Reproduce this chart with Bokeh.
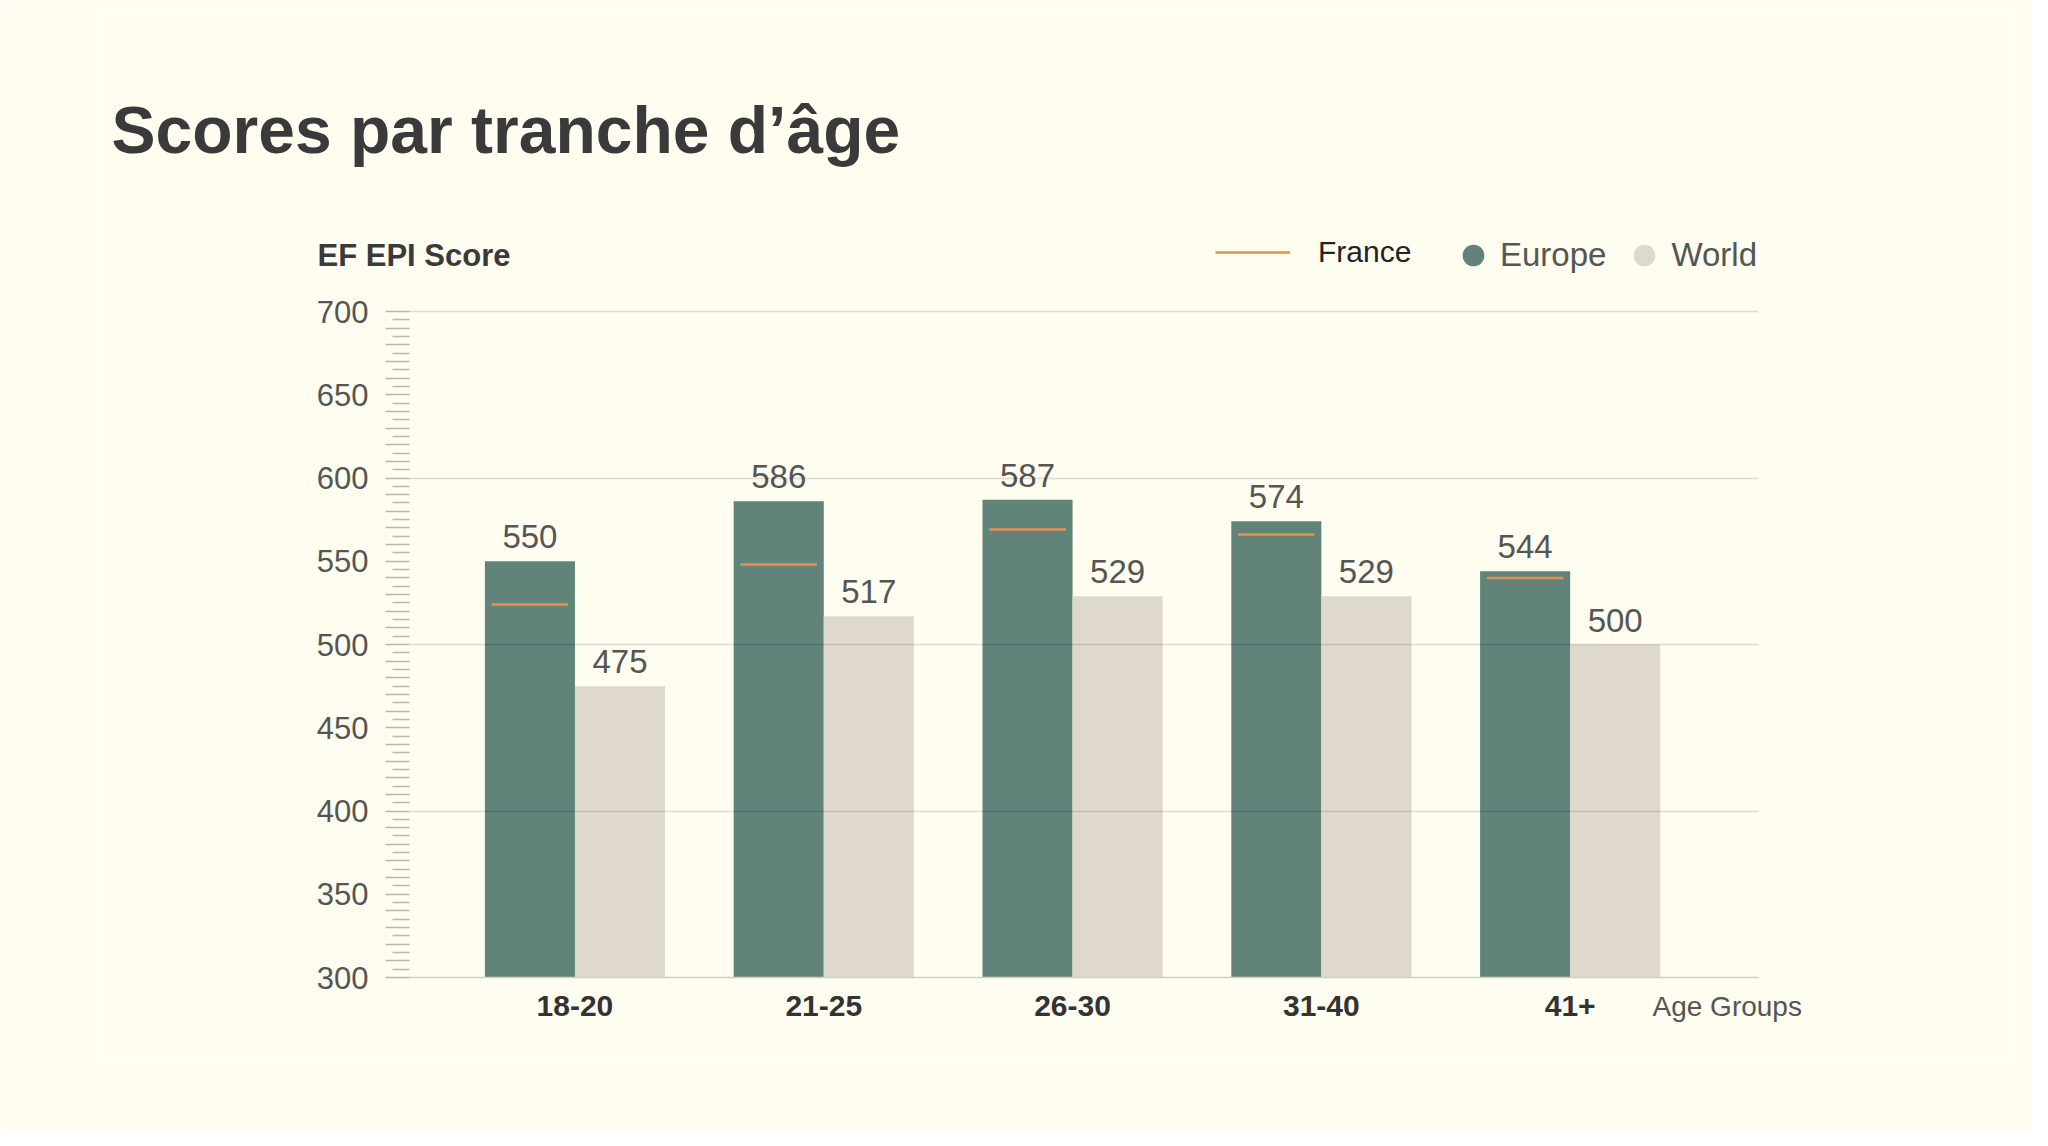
from bokeh.plotting import figure
from bokeh.models import Range1d, FixedTicker, Label, Legend, LegendItem, LinearAxis
from bokeh.core.properties import value
from bokeh.embed import file_html
from bokeh.resources import INLINE

# ---------------- data ----------------
categories = ["18-20", "21-25", "26-30", "31-40", "41+"]
europe = [550, 586, 587, 574, 544]
world = [475, 517, 529, 529, 500]
france = [524, 548, 569, 566, 540]
y_major_ticks = list(range(300, 701, 10))
y_minor_ticks = list(range(305, 700, 10))
y_label_step = 50
grid_values = [400, 500, 600, 700]
y_min, y_max = 300, 700

# ---------------- style / geometry ----------------
BG = "#fefdf0"
GREEN = "#61837a"
BEIGE = "#dfd8cc"
ORANGE = "#e8914a"
FONT = "Liberation Sans"

W, H = 2032, 1130
FL, FR, FT, FB = 100, 2012, 10, 1060          # plot frame (canvas px)
CL, CR, CT, CB = 409, 1758, 311, 977          # chart area (canvas px)
X_CL, X_CR = -0.665, 4.757                    # chart area (data x)
PPX = (CR - CL) / (X_CR - X_CL)
PPY = (CB - CT) / (y_max - y_min)
BAR_W = 0.362
FR_HALF = 0.154
NAN = float("nan")


def dx(px):
    return X_CL + (px - CL) / PPX


def dy(py):
    return y_max - (py - CT) / PPY


idx = list(range(len(categories)))
x_eu = [i - BAR_W / 2 for i in idx]
x_wo = [i + BAR_W / 2 for i in idx]

p = figure(
    width=W, height=H, title=None,
    x_range=Range1d(dx(FL), dx(FR)), y_range=Range1d(dy(FB), dy(FT)),
    output_backend="svg", toolbar_location=None,
    min_border_left=FL, min_border_right=W - FR,
    min_border_top=FT, min_border_bottom=H - FB,
    background_fill_color=BG, border_fill_color=BG,
    outline_line_color=None,
)
p.xgrid.visible = False
p.ygrid.visible = False

# bars
p.vbar(x=x_eu, top=europe, bottom=y_min, width=BAR_W, fill_color=GREEN, line_color=None)
p.vbar(x=x_wo, top=world, bottom=y_min, width=BAR_W, fill_color=BEIGE, line_color=None)

# France markers
fr = p.segment(x0=[x - FR_HALF for x in x_eu], x1=[x + FR_HALF for x in x_eu],
               y0=france, y1=france, line_color=ORANGE, line_width=2.5)

# value labels
for xs, vals in ((x_eu, europe), (x_wo, world)):
    p.text(x=xs, y=vals, text=[str(v) for v in vals], text_align="center",
           text_baseline="bottom", y_offset=-13, text_font=value(FONT),
           text_font_size="33px", text_color="#555555")

# y axis (fixed at chart left)
ya = p.yaxis[0]
ya.fixed_location = X_CL
ya.bounds = (y_min, y_max)
ya.ticker = FixedTicker(ticks=y_major_ticks, minor_ticks=y_minor_ticks)
ya.major_label_overrides = {t: "" for t in y_major_ticks if t % y_label_step != 0}
ya.axis_line_color = None
ya.major_tick_in = 0
ya.major_tick_out = 24
ya.minor_tick_in = 0
ya.minor_tick_out = 17
ya.major_tick_line_color = "#b8b8b0"
ya.minor_tick_line_color = "#b8b8b0"
ya.major_tick_line_width = 1.5
ya.minor_tick_line_width = 1.5
ya.major_label_standoff = 17
ya.major_label_text_font = FONT
ya.major_label_text_font_size = "31px"
ya.major_label_text_color = "#555555"

# x axis (fixed at y_min)
xa = p.xaxis[0]
xa.fixed_location = y_min
xa.bounds = (X_CL, X_CR)
xa.ticker = FixedTicker(ticks=idx)
xa.major_label_overrides = {i: c for i, c in zip(idx, categories)}
xa.major_tick_line_color = None
xa.minor_tick_line_color = None
xa.axis_line_color = "#cfcfc6"
xa.axis_line_width = 1.5
xa.major_label_standoff = 12
xa.major_label_text_font = FONT
xa.major_label_text_font_style = "bold"
xa.major_label_text_font_size = "30px"
xa.major_label_text_color = "#333333"

# horizontal grid lines drawn over the bars (ticks of an axis fixed at chart right)
ga = LinearAxis(fixed_location=X_CR, ticker=FixedTicker(ticks=grid_values))
ga.major_label_overrides = {t: "" for t in grid_values}
ga.major_label_standoff = 0
ga.major_label_text_font_size = "0px"
ga.axis_line_color = None
ga.minor_tick_line_color = None
ga.major_tick_out = 0
ga.major_tick_in = CR - CL
ga.major_tick_line_color = "black"
ga.major_tick_line_alpha = 0.13
ga.major_tick_line_width = 1.5
p.add_layout(ga, "right")

# texts
p.add_layout(Label(x=dx(111), y=dy(129), text="Scores par tranche d\u2019\u00e2ge",
                   text_font=FONT, text_font_style="bold", text_font_size="66px",
                   text_color="#3a3a3a", text_baseline="middle", text_align="left"))
p.add_layout(Label(x=dx(317), y=dy(255), text="EF EPI Score",
                   text_font=FONT, text_font_style="bold", text_font_size="31px",
                   text_color="#3a3a3a", text_baseline="middle", text_align="left"))
p.add_layout(Label(x=dx(1652), y=dy(1006), text="Age Groups",
                   text_font=FONT, text_font_size="28px",
                   text_color="#555555", text_baseline="middle", text_align="left"))

# legends (legend-only renderers carry no visible points)
eu_dummy = p.scatter(x=[NAN], y=[NAN], marker="circle", fill_color=GREEN, line_color=None)
wo_dummy = p.scatter(x=[NAN], y=[NAN], marker="circle", fill_color=BEIGE, line_color=None)

leg1 = Legend(items=[LegendItem(label="France", renderers=[fr])],
              location=(1215 - FL, FB - 272), orientation="horizontal",
              glyph_width=75, glyph_height=40, label_standoff=28,
              padding=0, margin=0, spacing=0,
              border_line_color=None, background_fill_alpha=0,
              label_text_font=FONT, label_text_font_size="30px",
              label_text_color="#222222")
leg2 = Legend(items=[LegendItem(label="Europe", renderers=[eu_dummy]),
                     LegendItem(label="World", renderers=[wo_dummy])],
              location=(1446 - FL, FB - 282), orientation="horizontal",
              glyph_width=54, glyph_height=54, label_standoff=0,
              padding=0, margin=0, spacing=11,
              border_line_color=None, background_fill_alpha=0,
              label_text_font=FONT, label_text_font_size="33px",
              label_text_color="#555555")
p.add_layout(leg1)
p.add_layout(leg2)

open("out.html", "w").write(file_html(p, INLINE))
